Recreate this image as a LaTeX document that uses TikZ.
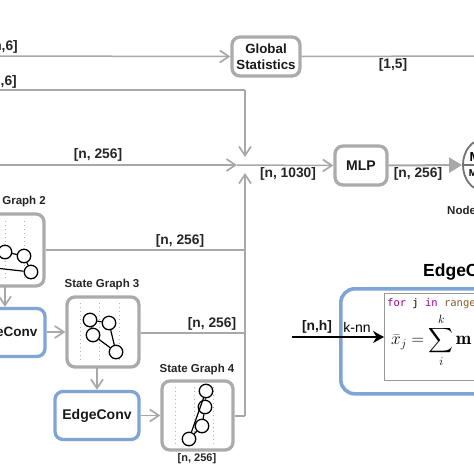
\documentclass[tikz,border=0pt]{standalone}
\usepackage{fontspec}
\usepackage{amsmath}
\setmainfont{Liberation Sans}
\newfontfamily\codefont{DejaVu Sans Mono}
\usetikzlibrary{arrows.meta,shapes.geometric}
\definecolor{gline}{HTML}{A8A8A8}
\definecolor{gbox}{HTML}{ABABAB}
\definecolor{bluebox}{HTML}{7FA4D6}
\tikzset{
  x=1pt,y=-1pt,
  conn/.style={draw=gline,line width=1.5pt},
  arr/.style={conn,-{Straight Barb[length=9pt,width=12pt,line width=1.7pt]}},
  bigarr/.style={draw=gline,line width=2pt,-{Triangle[length=13pt,width=15pt]}},
  greybox/.style={draw=gbox,line width=3.3pt,rounded corners=8pt,fill=white,inner sep=0pt,minimum width=#1},
  bluenode/.style={draw=bluebox,line width=3.3pt,rounded corners=8pt,fill=white,inner sep=0pt},
  lab/.style={font=\bfseries\fontsize{13.8}{15}\selectfont,text=black!85,inner sep=0pt},
  title/.style={font=\bfseries\fontsize{11.5}{13}\selectfont,text=black!85,inner sep=0pt},
  vert/.style={circle,draw=black,line width=1.3pt,fill=white,minimum size=13.5pt,inner sep=0pt},
  edgeline/.style={draw=black,line width=1.2pt},
  dots/.style={draw=gray!60,line width=.8pt,dash pattern=on 1pt off 3pt},
  boxtext/.style={font=\bfseries\fontsize{14}{16}\selectfont,align=center,text=black!90},
}
\begin{document}
\begin{tikzpicture}
\useasboundingbox (0,0) rectangle (474,474);
\clip (0,0) rectangle (474,474);
\fill[white] (0,0) rectangle (474,474);

% free ends
\coordinate (inA) at (-5,56);
\coordinate (inB) at (-5,90);
\coordinate (inC) at (-5,165);
\coordinate (outG) at (480,56);
\coordinate (mergeT) at (245,157);
\coordinate (mergeB) at (245,173);
\coordinate (mergeL) at (237,165);
\coordinate (cornerB) at (245,90);
\coordinate (j2) at (245,250);
\coordinate (j3) at (245,333);
\coordinate (j4) at (245,416);
\coordinate (inH) at (292,337);
\coordinate (d2) at (5,286);
\coordinate (d3) at (97,367);

% boxes
\node[greybox=68pt,minimum height=39pt,boxtext,font=\bfseries\fontsize{13.3}{15.5}\selectfont] (global) at (266,56.5) {Global\\Statistics};
\node[greybox=52pt,minimum height=39pt,boxtext] (mlp) at (361,165.5) {MLP};
\node[draw=gray!90!black,line width=1.8pt,ellipse,minimum width=40pt,minimum height=51pt,inner sep=0pt,fill=white] (out) at (483,165) {};
\draw[draw=gray!90!black,line width=1.3pt] (out.west) -- (out.east);
\node[font=\bfseries\fontsize{13}{15}\selectfont,inner sep=0pt] (outT) at (475,157) {M};
\node[font=\bfseries\fontsize{10}{12}\selectfont,inner sep=0pt] (outB) at (473,173.5) {M};
\node[title,anchor=west] (nodeL) at (447,210) {Node};

\node[greybox=72pt,minimum height=72pt] (sg2) at (8,250) {};
\node[greybox=72pt,minimum height=70pt] (sg3) at (103,332) {};
\node[greybox=71pt,minimum height=69pt] (sg4) at (197.5,415.5) {};
\node[bluenode,minimum width=84pt,minimum height=48pt] (ec2) at (3,332.5) {};
\node[boxtext,font=\bfseries\fontsize{13.5}{16}\selectfont,anchor=east,inner sep=0pt] (ec2t) at (37.5,333) {EdgeConv};
\node[bluenode,minimum width=84pt,minimum height=48pt,boxtext] (ec3) at (97,415.5) {EdgeConv};

% titles and labels
\node[title,anchor=east] (t2) at (46,202) {State Graph 2};
\node[title] (t3) at (102,285) {State Graph 3};
\node[title] (t4) at (197,369.5) {State Graph 4};
\node[title,font=\bfseries\fontsize{11}{13}\selectfont] (l4) at (197,459) {[n, 256]};
\node[lab,anchor=east] (la) at (18,47) {[n,6]};
\node[lab,anchor=east] (lb) at (17,82) {[n,6]};
\node[lab] (lc) at (98,155) {[n, 256]};
\node[lab] (ld) at (180,241) {[n, 256]};
\node[lab] (le) at (212,324) {[n, 256]};
\node[lab] (lf) at (288,174) {[n, 1030]};
\node[lab] (lg) at (418,174) {[n, 256]};
\node[lab] (lh) at (393,65) {[1,5]};

% connectors
\draw[arr] (inA) -- (global.west);
\draw[conn] (global.east) -- (outG);
\draw[conn] (inB) -- (cornerB);
\draw[arr] (cornerB) -- (mergeT);
\draw[arr] (inC) -- (mergeL);
\draw[arr] (mergeL) -- (mlp.west);
\draw[bigarr] (mlp.east) -- (out.west);
\draw[conn] (sg2.east |- j2) -- (j2);
\draw[conn] (sg3.east |- j3) -- (j3);
\draw[conn] (sg4.east |- j4) -- (j4);
\draw[arr] (j4) -- (mergeB);
\draw[arr] (d2) -- (ec2.north -| d2);
\draw[arr] (ec2.east |- sg3.west) -- (sg3.west);
\draw[arr] (d3) -- (ec3.north -| d3);
\draw[arr] (ec3.east) -- (sg4.west);

% small graphs
\foreach \x in {5,24} \draw[dots] (\x,221) -- (\x,279);
\foreach \x in {80,99,119} \draw[dots] (\x,303) -- (\x,362);
\foreach \x in {175,194,213} \draw[dots] (\x,387) -- (\x,445);

\node[vert] (a1) at (5,252) {};
\node[vert] (a2) at (24,256) {};
\node[vert] (a3) at (31,272) {};
\coordinate (a0) at (-5,268);
\draw[edgeline] (a1) -- (a2);
\draw[edgeline] (a2) -- (a3);
\draw[edgeline] (a0) -- (a3);

\node[vert] (b1) at (90,320) {};
\node[vert] (b2) at (109,323) {};
\node[vert] (b3) at (93,335) {};
\node[vert] (b4) at (116,352) {};
\draw[edgeline] (b1) -- (b3);
\draw[edgeline] (b1) -- (b2);
\draw[edgeline] (b2) -- (b4);
\draw[edgeline] (b3) -- (b4);

\node[vert] (c1) at (206,391) {};
\node[vert] (c2) at (205,407) {};
\node[vert] (c3) at (202,426) {};
\node[vert] (c4) at (189,439) {};
\draw[edgeline] (c1) -- (c2);
\draw[edgeline] (c2) -- (c3);
\draw[edgeline] (c3) -- (c4);
\draw[edgeline] (c1) -- (c4);

% EdgeConv panel
\node[font=\bfseries\fontsize{17.5}{20}\selectfont,anchor=west,inner sep=0pt] (ectitle) at (423,272) {EdgeC};
\node[bluenode,line width=3.6pt,rounded corners=14pt,minimum width=180pt,minimum height=105pt,anchor=north west] (panel) at (339,287) {};
\node[draw=gray!80,line width=.9pt,fill=white,minimum width=120pt,minimum height=87pt,anchor=north west,inner sep=0pt] (code) at (384,293) {};
\node[anchor=west,inner sep=0pt,font=\codefont\fontsize{10.5}{12}\selectfont] (codeline) at (387,304)
  {\textcolor{violet!80!magenta}{for} j \textcolor{violet!80!magenta}{in} \textcolor{brown!70!black}{range}};
\node[anchor=west,inner sep=0pt,font=\fontsize{18.5}{22}\selectfont] (formula) at (391,340)
  {\(\displaystyle \bar{x}_j=\sum_{i}^{k}\)\hspace{2pt}{\fontfamily{lmr}\selectfont\bfseries m}};
\draw[draw=black,line width=1.3pt,-{Stealth[length=11pt,width=12pt]}] (inH) -- (code.west |- inH);
\node[lab,text=black!90] (lnh) at (317,327) {[n,h]};
\node[inner sep=0pt,font=\fontsize{14}{16}\selectfont] (knn) at (357,327) {k-nn};
\end{tikzpicture}
\end{document}
